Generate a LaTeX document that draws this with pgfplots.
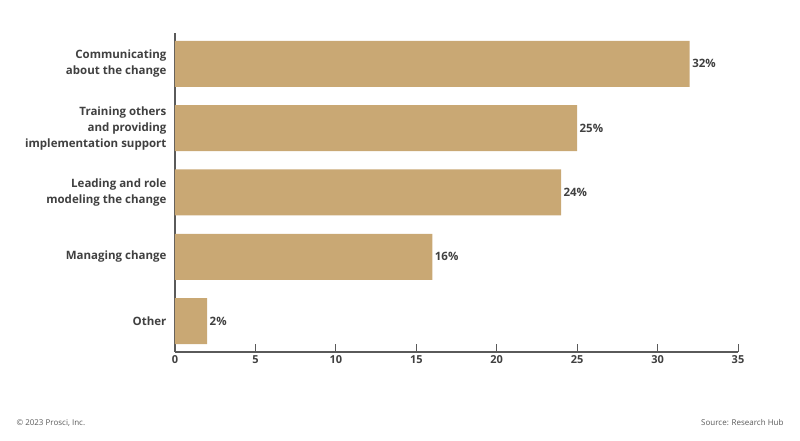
\documentclass[border=0pt]{standalone}
\usepackage{pgfplots}
\pgfplotsset{compat=1.18}
\usepackage{fontspec}
\setmainfont{Open Sans}
\definecolor{bartan}{HTML}{C9A874}
\definecolor{txt}{HTML}{404040}
\definecolor{axisgray}{HTML}{5A5A5A}
\definecolor{foot}{HTML}{595959}

\begin{document}
\begin{tikzpicture}
\path[use as bounding box] (-175pt,-89pt) rectangle (625pt,352pt);
\begin{axis}[
  at={(0pt,0pt)}, anchor=south west,
  scale only axis, width=563pt, height=319pt,
  xbar, bar width=46pt,
  xmin=0, xmax=35, ymin=-0.48, ymax=4.48,
  xtick={0,5,...,35},
  ytick={0,1,2,3,4},
  yticklabels={Other, Managing change, {Leading and role\\modeling the change}, {Training others\\and providing \\implementation support}, {Communicating\\about the change}},
  yticklabel style={align=right, font=\fontsize{11.5}{16}\selectfont\bfseries, text=txt, xshift=3pt},
  xticklabel style={font=\fontsize{11}{13}\selectfont\bfseries, text=txt},
  /pgf/number format/assume math mode=true,
  axis x line*=bottom, axis y line*=left,
  axis line style={axisgray, line width=1.2pt, -},
  x axis line style={-}, y axis line style={-},
  xtick pos=bottom, xtick align=inside, major tick length=8pt,
  major x tick style={axisgray, line width=1pt},
  major y tick style={draw=none},
  nodes near coords={\pgfmathprintnumber{\pgfplotspointmeta}\%},
  nodes near coords style={font=\fontsize{11.5}{13}\selectfont\bfseries, text=txt, anchor=west, xshift=-1pt},
  point meta=x,
]
\addplot[fill=bartan, draw=none] coordinates {(2,0) (16,1) (24,2) (25,3) (32,4)};
\end{axis}
\node[anchor=west, text=foot, font=\fontsize{8}{10}\selectfont] at (-162pt,-71pt) {© 2023 Prosci, Inc.};
\node[anchor=east, text=foot, font=\fontsize{8}{10}\selectfont] at (612pt,-71pt) {Source: Research Hub};
\end{tikzpicture}
\end{document}
